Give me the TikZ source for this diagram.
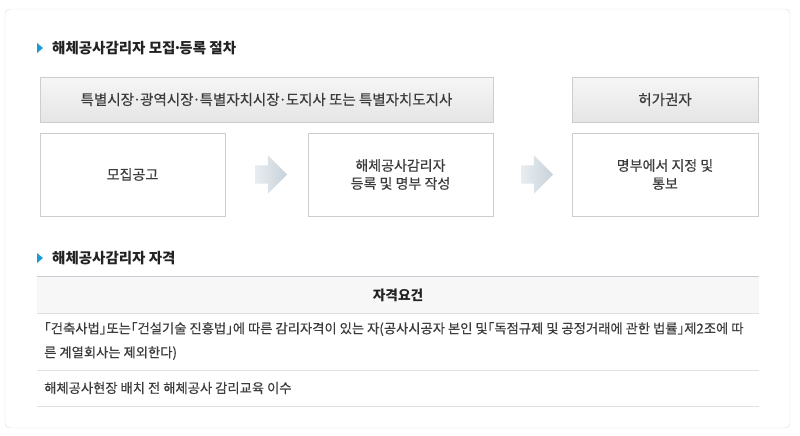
\documentclass[tikz,border=0pt]{standalone}
\usepackage{fontspec}
\setmainfont{Noto Sans CJK KR}
\newfontfamily\bodyfont[FakeBold=0.35]{Noto Sans CJK KR}
\newfontfamily\halffont[CharacterWidth=AlternateHalf,FakeBold=0.35]{Noto Sans CJK KR}
\newlength\dotkern
\setlength\dotkern{2.5pt}
\newcommand\middot{\kern-\dotkern·\kern-\dotkern}
\usetikzlibrary{shapes.arrows,shadows,calc}
\definecolor{framegray}{HTML}{DCDCDC}
\definecolor{boxline}{HTML}{CDCDCD}
\definecolor{boxtop}{HTML}{F6F6F6}
\definecolor{boxbottom}{HTML}{E5E5E5}
\definecolor{titletext}{HTML}{222222}
\definecolor{bodytext}{HTML}{3C3C3C}
\definecolor{bulletblue}{HTML}{1C9AD6}
\definecolor{arrowlight}{HTML}{E8EDF1}
\definecolor{arrowdark}{HTML}{C8D2DA}
\definecolor{theadfill}{HTML}{F7F7F7}
\definecolor{theadline}{HTML}{C9CAD2}
\definecolor{rowline}{HTML}{E0E0E0}
\tikzset{
  sectiontitle/.style={anchor=west, inner sep=0pt, text=titletext,
    font=\fontsize{14.5}{17}\selectfont\bfseries},
  headbox/.style={draw=boxline, top color=boxtop, bottom color=boxbottom,
    minimum height=45pt, inner sep=0pt, text=bodytext,
    font=\bodyfont\fontsize{14.5}{17}\selectfont\setlength\dotkern{1pt},
    drop shadow={shadow xshift=0pt, shadow yshift=-1pt, fill=black, opacity=.08}},
  stepbox/.style={draw=boxline, fill=white, minimum width=185pt,
    minimum height=83pt, inner sep=0pt, align=center, text=bodytext,
    font=\bodyfont\fontsize{14}{18}\selectfont,
    drop shadow={shadow xshift=0pt, shadow yshift=-1pt, fill=black, opacity=.08}},
  flowarrow/.style={single arrow, draw=none, inner xsep=0pt, inner ysep=9pt,
    minimum height=32pt, single arrow head extend=10pt,
    left color=arrowlight, right color=arrowdark},
  celltext/.style={inner sep=0pt, text=bodytext,
    font=\halffont\fontsize{13.3}{24}\selectfont}
}
\begin{document}
\begin{tikzpicture}[x=1pt,y=-1pt]
\useasboundingbox (0,0) rectangle (800,436);
\draw[framegray, fill=white, rounded corners=5pt] (5,9) rectangle (790,428);
\fill[bulletblue] (37,43) -- (43,48) -- (37,53) -- cycle;
\node[sectiontitle] (proctitle) at (52,48) {해체공사감리자 모집\middot 등록 절차};
\node[headbox, minimum width=453pt] (mayor) at (266.5,99.5)
  {특별시장\middot 광역시장\middot 특별자치시장\middot 도지사 또는 특별자치도지사};
\node[headbox, minimum width=186pt] (permit) at (665,99.5) {허가권자};
\node[stepbox] (recruit) at (132.5,174.5) {모집공고};
\node[stepbox] (register) at (400.5,174.5) {해체공사감리자\\등록 및 명부 작성};
\node[stepbox, minimum width=186pt] (notify) at (665,174.5) {명부에서 지정 및\\통보};
\node[flowarrow] (arrA) at ($(recruit.east)!0.5!(register.west)$) {};
\node[flowarrow] (arrB) at ($(register.east)!0.5!(notify.west)$) {};
\fill[bulletblue] (37,253) -- (43,258) -- (37,263) -- cycle;
\node[sectiontitle] (qualtitle) at (52,258) {해체공사감리자 자격};
\fill[theadfill] (37,276) rectangle (759,313);
\draw[theadline, line width=1pt] (37,276) -- (759,276);
\draw[rowline] (37,313) -- (759,313);
\draw[rowline] (37,370) -- (759,370);
\draw[rowline] (37,406) -- (759,406);
\node[celltext, font=\fontsize{13.7}{16}\selectfont\bfseries, text=titletext]
  (thead) at (398,295) {자격요건};
\node[celltext, anchor=west, align=left] (req1) at (44,341)
  {「건축사법」또는「건설기술 진흥법」에 따른 감리자격이 있는 자(공사시공자 본인 및「독점규제 및 공정거래에 관한 법률」제2조에 따\\른 계열회사는 제외한다)};
\node[celltext, anchor=west] (req2) at (44,388) {해체공사현장 배치 전 해체공사 감리교육 이수};
\end{tikzpicture}
\end{document}
